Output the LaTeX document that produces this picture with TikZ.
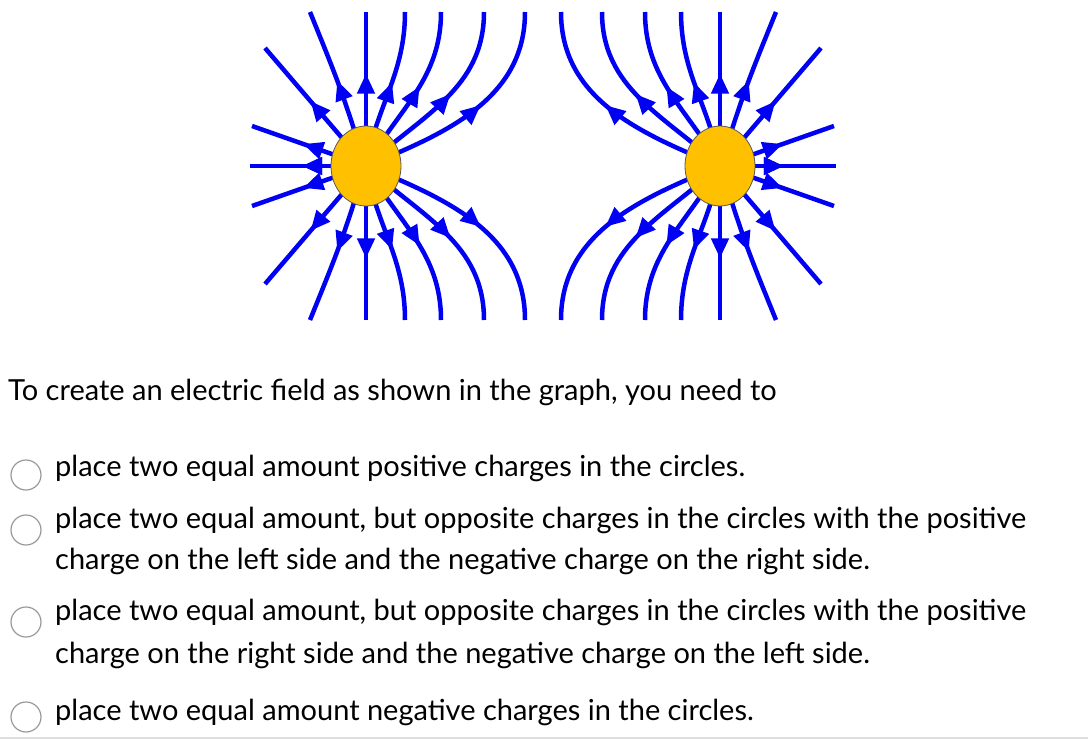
\documentclass[tikz,border=0pt]{standalone}
\usepackage{fontspec}
\setmainfont{Lato}
\usetikzlibrary{decorations.markings,arrows.meta,shapes.geometric}
\definecolor{fl}{RGB}{0,0,245}
\definecolor{ch}{RGB}{255,192,0}
\tikzset{
 fline/.style={fl,line width=4.5pt,postaction={decorate},decoration={markings,mark=at position #1 with {\arrow{Triangle[length=20pt,width=17pt]}}}},
 fline/.default=0.55,
 charge/.style={ellipse,draw=gray!70!black,fill=ch,minimum width=70pt,minimum height=80pt,inner sep=0pt,line width=0.8pt},
 txt/.style={anchor=base west,inner sep=0pt,font=\fontsize{29}{34}\selectfont},
 radio/.style={circle,draw=gray!80,line width=1.2pt,minimum size=30pt,inner sep=0pt}
}
\begin{document}
\begin{tikzpicture}[x=1pt,y=-1pt]
\useasboundingbox (0,0) rectangle (1088,739);
\coordinate (L) at (366,166);
\coordinate (R) at (720,166);
% left charge lines
\foreach \s in {1,-1}{
 \draw[fline] (L) -- (250,166);
 \draw[fline] (L) -- (252,{166-\s*40});
 \draw[fline] (L) -- (265,{166-\s*118});
 \draw[fline] (L) .. controls (340,{166-\s*80}) .. (310,{166-\s*154});
 \draw[fline=0.6] (L) -- (366,{166-\s*154});
 \draw[fline] (L) to[out=\s*80,in=\s*-90] (405,{166-\s*154});
 \draw[fline] (L) to[out=\s*60,in=\s*-90] (441,{166-\s*154});
 \draw[fline] (L) to[out=\s*42,in=\s*-90] (484,{166-\s*154});
 \draw[fline] (L) to[out=\s*22,in=\s*-90] (525,{166-\s*154});
 % right charge mirrored
 \draw[fline] (R) -- (836,166);
 \draw[fline] (R) -- (834,{166-\s*40});
 \draw[fline] (R) -- (821,{166-\s*118});
 \draw[fline] (R) .. controls (746,{166-\s*80}) .. (776,{166-\s*154});
 \draw[fline=0.6] (R) -- (720,{166-\s*154});
 \draw[fline] (R) to[out={180-\s*80},in=\s*-90] (681,{166-\s*154});
 \draw[fline] (R) to[out={180-\s*60},in=\s*-90] (645,{166-\s*154});
 \draw[fline] (R) to[out={180-\s*42},in=\s*-90] (602,{166-\s*154});
 \draw[fline] (R) to[out={180-\s*22},in=\s*-90] (561,{166-\s*154});
}
\node[charge] (cl) at (L) {};
\node[charge] (cr) at (R) {};
% question
\node[txt] (q) at (8,400) {To create an electric field as shown in the graph, you need to};
\node[radio] (r1) at (26,475) {};
\node[txt] (a1) at (55,476) {place two equal amount positive charges in the circles.};
\node[radio] (r2) at (26,530) {};
\node[txt] (a2) at (55,528) {place two equal amount, but opposite charges in the circles with the positive};
\node[txt] (a2b) at (55,569) {charge on the left side and the negative charge on the right side.};
\node[radio] (r3) at (26,622) {};
\node[txt] (a3) at (55,620) {place two equal amount, but opposite charges in the circles with the positive};
\node[txt] (a3b) at (55,663) {charge on the right side and the negative charge on the left side.};
\node[radio] (r4) at (26,717) {};
\node[txt] (a4) at (55,720) {place two equal amount negative charges in the circles.};
\draw[gray!25,line width=1.5pt] (0,738) -- (1088,738);
\end{tikzpicture}
\end{document}
